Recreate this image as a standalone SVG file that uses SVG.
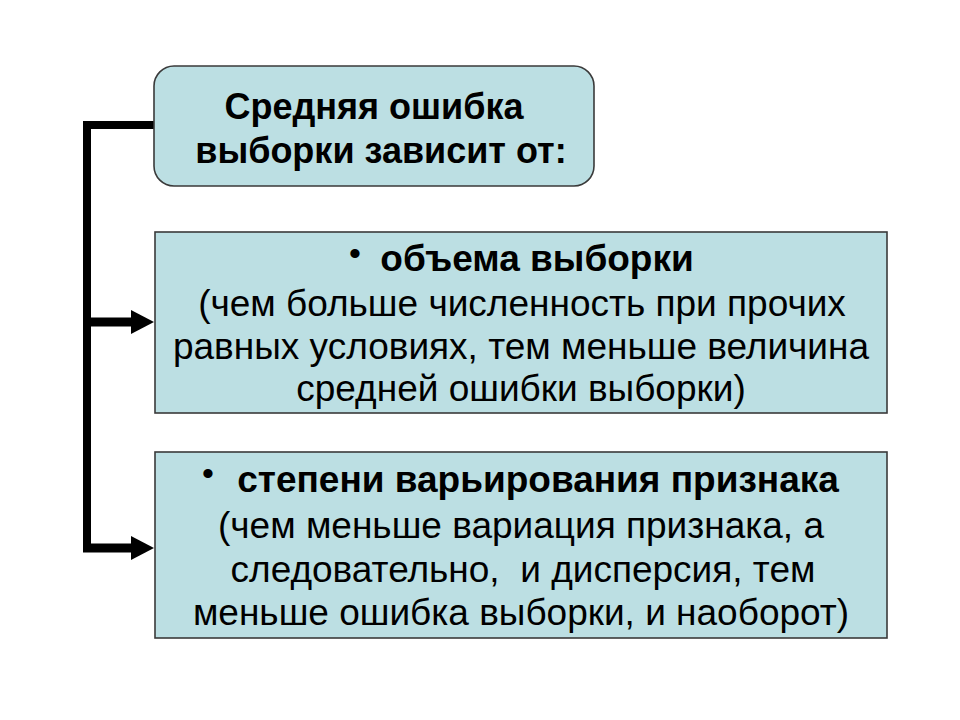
<svg xmlns="http://www.w3.org/2000/svg" width="960" height="720" viewBox="0 0 960 720">
<style>
.box{fill:#bcdfe3;stroke:#3a3a3a;stroke-width:1.6}
.t{font-family:"Liberation Sans",Arial,sans-serif;fill:#000;text-anchor:middle}
.b{font-weight:bold}
.body{font-size:37px}
.bul{font-size:34px}
.conn{fill:none;stroke:#000;stroke-linecap:butt;stroke-linejoin:miter}
</style>
<defs>
<marker id="ah" markerUnits="userSpaceOnUse" markerWidth="24" markerHeight="26" refX="0" refY="12" orient="auto">
<path d="M0,0 L23,12 L0,24 Z" fill="#000"/>
</marker>
</defs>
<rect width="960" height="720" fill="#fff"/>
<g id="connectors">
<path class="conn" d="M154,125 L87,125 L87,552" stroke-width="8"/>
<line class="conn" x1="87" y1="322" x2="131" y2="322" stroke-width="9" marker-end="url(#ah)"/>
<line class="conn" x1="83" y1="548" x2="131" y2="548" stroke-width="9" marker-end="url(#ah)"/>
</g>
<g id="node-main">
<rect class="box" x="154" y="66" width="440" height="120" rx="20" ry="20"/>
<text class="t b" x="374" y="119" font-size="36">Средняя ошибка</text>
<text class="t b" x="381" y="163" font-size="36">выборки зависит от:</text>
</g>
<g id="node-size">
<rect class="box" x="155" y="232" width="732" height="181"/>
<text class="t bul" x="355" y="265">•</text>
<text class="t b body" x="537" y="271">объема выборки</text>
<text class="t body" x="522" y="316">(чем больше численность при прочих</text>
<text class="t body" x="521" y="359">равных условиях, тем меньше величина</text>
<text class="t body" x="521" y="401">средней ошибки выборки)</text>
</g>
<g id="node-variation">
<rect class="box" x="155" y="452" width="732" height="186"/>
<text class="t bul" x="208" y="485">•</text>
<text class="t b body" x="538" y="492">степени варьирования признака</text>
<text class="t body" x="521" y="538">(чем меньше вариация признака, а</text>
<text class="t body" x="523" y="582" xml:space="preserve">следовательно,  и дисперсия, тем</text>
<text class="t body" x="521" y="625">меньше ошибка выборки, и наоборот)</text>
</g>
</svg>
